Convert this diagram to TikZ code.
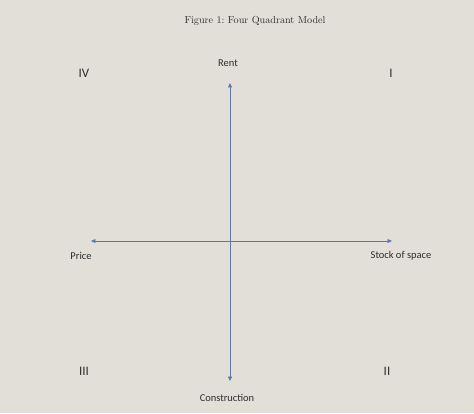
\documentclass[tikz,border=0pt]{standalone}
\usepackage{fontspec}
\setmainfont{Latin Modern Roman}
\newfontfamily\lab{Carlito}
\usetikzlibrary{arrows.meta}
\definecolor{paper}{RGB}{226,223,216}
\definecolor{axis}{RGB}{100,118,168}
\definecolor{ink}{RGB}{45,45,45}
\tikzset{
  lbl/.style={font=\lab\fontsize{10.5}{12}\selectfont, text=ink, inner sep=1pt},
  quad/.style={font=\lab\fontsize{13}{15}\selectfont, text=ink, inner sep=1pt},
  ax/.style={draw=axis, line width=0.65pt, -{Triangle[length=4.5pt,width=4pt]}}
}
\begin{document}
\begin{tikzpicture}[x=1bp,y=-1bp]
\fill[paper] (0,0) rectangle (474,413);
\useasboundingbox (0,0) rectangle (474,413);
\node[font=\fontsize{10.2}{12}\selectfont, text=ink] (title) at (255,21) {Figure 1:\ Four Quadrant Model};
\coordinate (o) at (230,241);
\coordinate (top) at (230,83);
\coordinate (bot) at (230,381);
\coordinate (lft) at (91,241);
\coordinate (rgt) at (392,241);
\draw[ax] (o) -- (top);
\draw[ax] (o) -- (bot);
\draw[ax] (o) -- (lft);
\draw[ax] (o) -- (rgt);
\node[lbl] (rent) at (228,63) {Rent};
\node[lbl] (price) at (81,256) {Price};
\node[lbl] (stock) at (401,256) {Stock of space};
\node[lbl] (cons) at (227,398) {Construction};
\node[quad] (q4) at (84,73) {IV};
\node[quad] (q1) at (391,73) {I};
\node[quad] (q3) at (84,371) {III};
\node[quad] (q2) at (387,371) {II};
\end{tikzpicture}
\end{document}
